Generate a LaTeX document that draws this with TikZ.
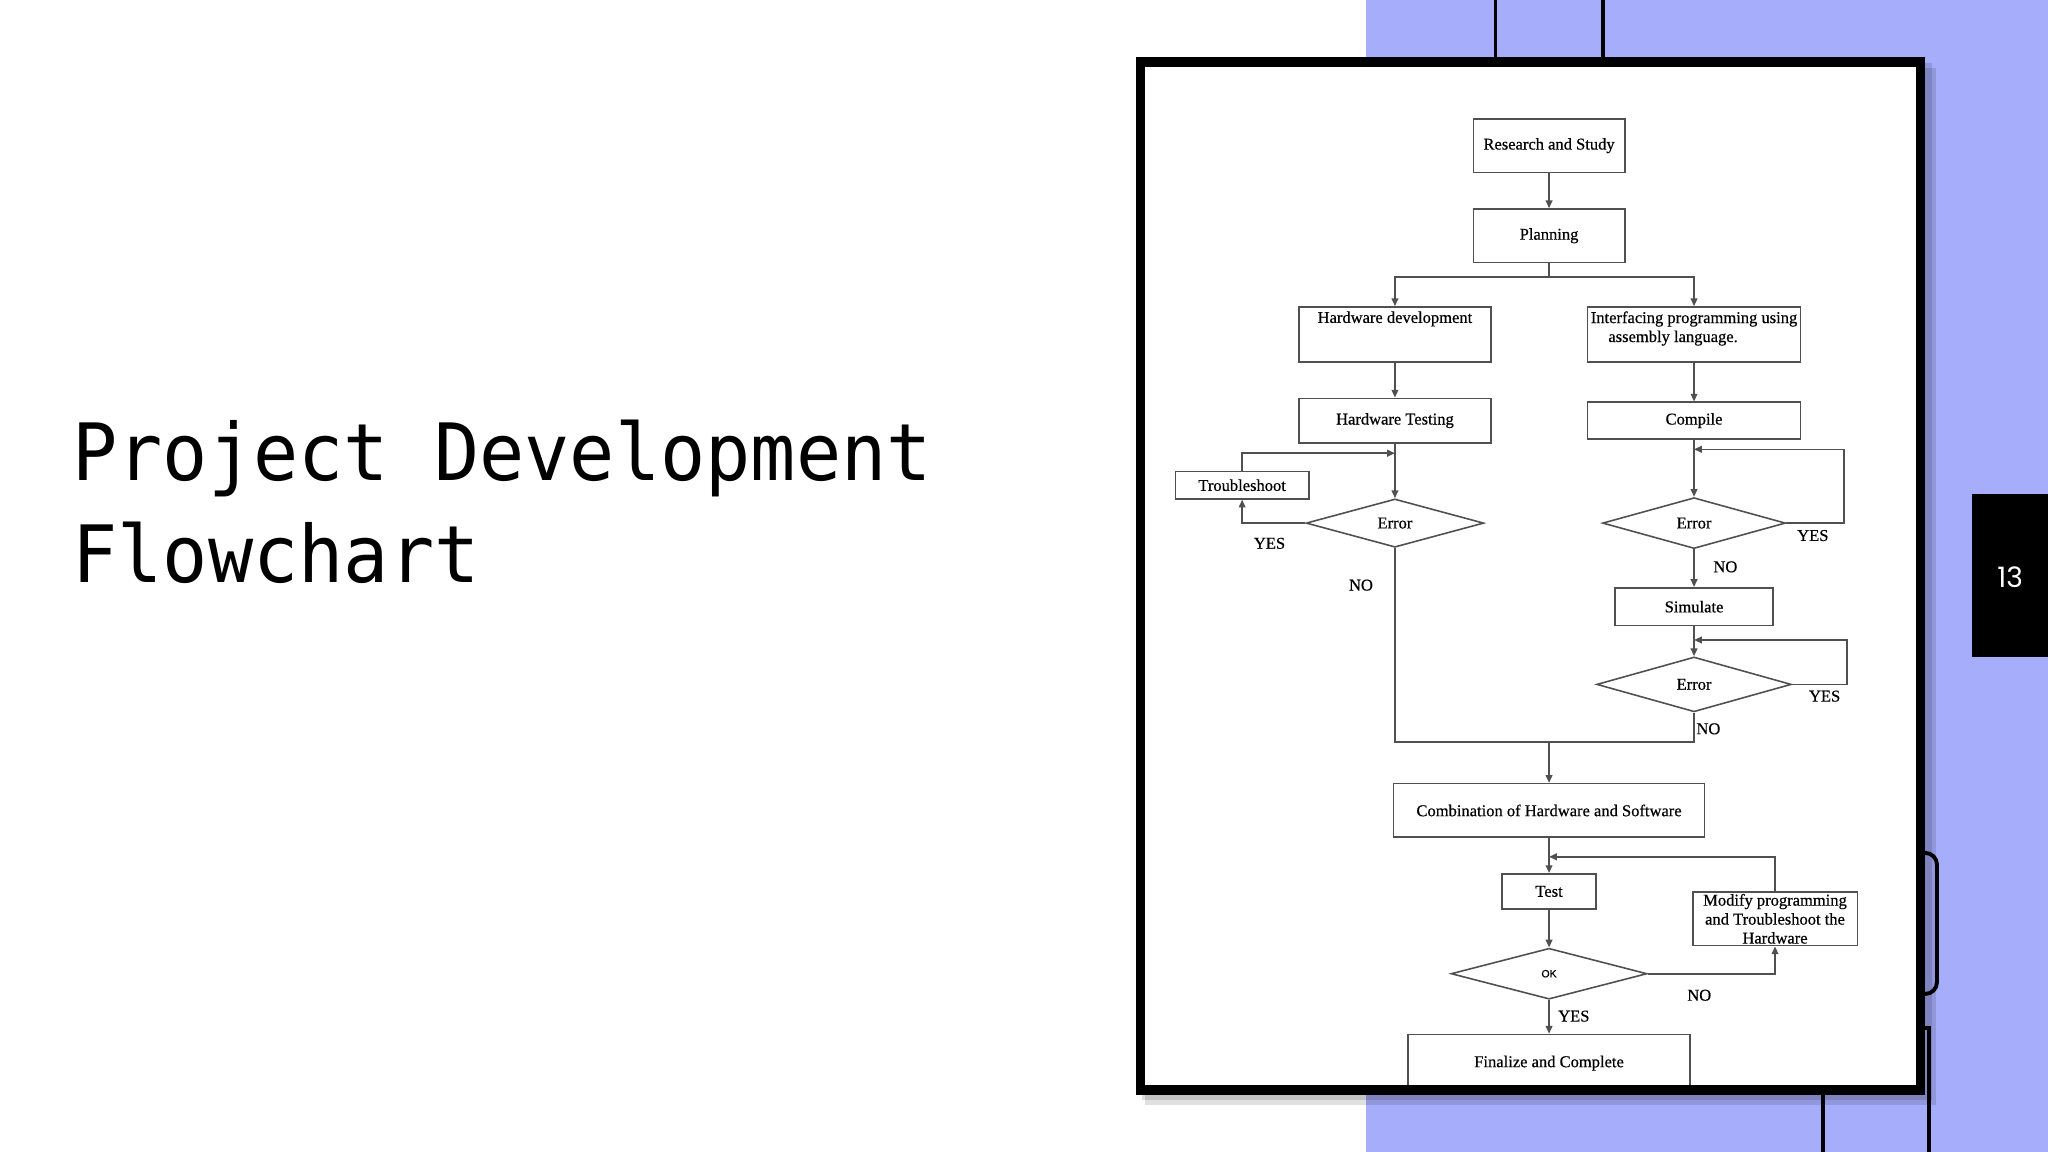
\documentclass[tikz,border=0pt]{standalone}
\usepackage{fontspec}
\usetikzlibrary{shapes.geometric,arrows.meta,calc}
\newfontfamily\fcfont[FakeBold=0.5]{Liberation Serif}
\newfontfamily\fcsans[FakeBold=0.5]{Liberation Sans}
\newfontfamily\titlefont{DejaVu Sans Mono}
\newfontfamily\numfont{Poppins}
\definecolor{lav}{RGB}{166,173,250}
\definecolor{fcline}{RGB}{80,80,80}
\def\spx{0.013061cm}
\begin{document}
\begin{tikzpicture}[x=0.013061cm,y=-0.013061cm,
  fctext/.style={font=\fcfont\fontsize{4.7}{5.4}\selectfont},
  box/.style={draw=fcline, line width=0.45pt, fill=white, inner sep=0pt, align=center, fctext},
  dia/.style={diamond, draw=fcline, line width=0.45pt, fill=white, inner sep=0pt, fctext},
  ln/.style={draw=fcline, line width=0.45pt},
  arr/.style={draw=fcline, line width=0.45pt, -{Triangle[length=2.2pt,width=1.9pt]}},
  lbl/.style={inner sep=0pt, fctext},
  deco/.style={draw=black, line width=3*\spx},
]
\useasboundingbox (0,0) rectangle (1568,882);
\fill[white] (0,0) rectangle (1568,882);
\fill[lav] (1046,0) rectangle (1568,882);

% decorative lines behind frame
\draw[deco] (1145,0) -- (1145,60);
\draw[deco] (1227,0) -- (1227,60);
\draw[deco] (1396,820) -- (1396,882);
\draw[deco] (1466,787) -- (1477,787) -- (1477,882);
\draw[deco, rounded corners=9*\spx] (1460,653) -- (1483,653) -- (1483,761) -- (1460,761);

% title
\node[anchor=base west, inner sep=0pt, font=\titlefont\fontsize{22.5}{27}\selectfont, xscale=0.95] (t1) at (55,368) {Project Development};
\node[anchor=base west, inner sep=0pt, font=\titlefont\fontsize{22.5}{27}\selectfont, xscale=0.95] (t2) at (55,446) {Flowchart};

% page number
\fill[black] (1510,378) rectangle (1568,503);
\node[text=white, font=\numfont\fontsize{8}{9}\selectfont, inner sep=0pt] (pn) at (1539,442) {13};

% frame shadow and paper
\fill[black, opacity=0.12] (877,52) rectangle (1482,846);
\fill[black, opacity=0.12] (874,48) rectangle (1479,842);
\fill[white] (870,44) rectangle (1474,838);

% flowchart
\node[box, minimum width=116*\spx, minimum height=41*\spx] (rs) at (1186,111.5) {Research and Study};
\node[box, minimum width=116*\spx, minimum height=41*\spx] (pl) at (1186,180.5) {Planning};
\node[box, minimum width=147*\spx, minimum height=42*\spx,
  label={[lbl, anchor=north, yshift=-1.3pt]north:Hardware development}] (hw) at (1068,256) {};
\node[box, minimum width=163*\spx, minimum height=42*\spx,
  label={[lbl, anchor=north, align=left, yshift=-1.3pt]north:Interfacing programming using\\\hspace*{5pt}assembly language.}] (ifc) at (1297,256) {};
\node[box, minimum width=147*\spx, minimum height=34*\spx] (ht) at (1068,322) {Hardware Testing};
\node[box, minimum width=163*\spx, minimum height=28*\spx] (cp) at (1297,322) {Compile};
\node[box, minimum width=102*\spx, minimum height=21*\spx] (ts) at (951,371.5) {Troubleshoot};
\node[dia, minimum width=136*\spx, minimum height=37*\spx, aspect=3.7] (e1) at (1068,400.5) {Error};
\node[dia, minimum width=140*\spx, minimum height=39*\spx, aspect=3.6] (e2) at (1297,400.5) {Error};
\node[box, minimum width=121*\spx, minimum height=29*\spx] (sim) at (1297,464.5) {Simulate};
\node[dia, minimum width=149*\spx, minimum height=42*\spx, aspect=3.5] (e3) at (1297,524) {Error};
\node[box, minimum width=238*\spx, minimum height=41*\spx] (comb) at (1186,620.5) {Combination of Hardware and Software};
\node[box, minimum width=72*\spx, minimum height=27*\spx] (test) at (1186,682.5) {Test};
\node[box, minimum width=126*\spx, minimum height=41*\spx] (mod) at (1359,703.5) {Modify programming\\and Troubleshoot the\\Hardware};
\node[dia, minimum width=150*\spx, minimum height=39*\spx, aspect=3.8, font=\fcsans\fontsize{3}{3.5}\selectfont] (ok) at (1186,745.5) {OK};
\node[box, minimum width=216*\spx, minimum height=44*\spx] (fin) at (1186,814) {Finalize and Complete};

% connectors
\coordinate (split) at (1186,212);
\coordinate (j1) at (1068,347);
\coordinate (j2) at (1297,344);
\coordinate (j3) at (1297,490);
\coordinate (m1) at (1068,568);
\coordinate (m2) at (1297,568);
\coordinate (mc) at (1186,568);
\coordinate (j4) at (1186,656);

\draw[arr] (rs) -- (pl);
\draw[ln] (pl) -- (split);
\draw[arr] (split) -| (hw);
\draw[arr] (split) -| (ifc);
\draw[arr] (hw) -- (ht);
\draw[arr] (ifc) -- (cp);
\draw[arr] (ht) -- (e1);
\draw[arr] (e1.west) -| (ts.south);
\draw[arr] (ts.north) |- (j1);
\draw[arr] (cp) -- (e2);
\draw[arr] (e2.east) -- ++(44,0) |- (j2);
\draw[arr] (e2) -- (sim);
\draw[arr] (sim) -- (e3);
\draw[arr] (e3.east) -- ++(42,0) |- (j3);
\draw[ln] (e1.south) -- (m1) -- (m2) -- (e3.south);
\draw[arr] (mc) -- (comb);
\draw[arr] (comb) -- (test);
\draw[arr] (mod.north) |- (j4);
\draw[arr] (test) -- (ok);
\draw[arr] (ok.east) -| (mod.south);
\draw[arr] (ok) -- (fin);

% labels
\node[lbl] (y1) at (972,416) {YES};
\node[lbl] (n1) at (1042,448) {NO};
\node[lbl] (y2) at (1388,410) {YES};
\node[lbl] (n2) at (1321,434) {NO};
\node[lbl] (y3) at (1397,533) {YES};
\node[lbl] (n3) at (1308,558) {NO};
\node[lbl] (n4) at (1301,762) {NO};
\node[lbl] (y4) at (1205,778) {YES};

% frame border
\draw[black, line width=7*\spx] (873.5,47.5) rectangle (1470.5,834.5);
\end{tikzpicture}
\end{document}
